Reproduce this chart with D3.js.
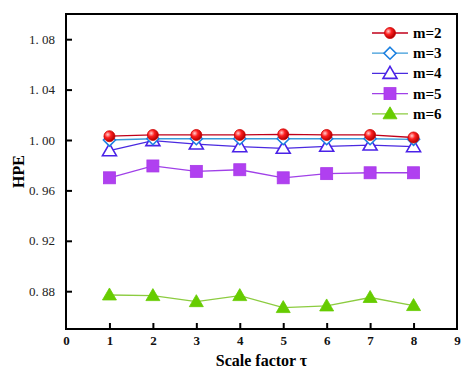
<!DOCTYPE html>
<html><head><meta charset="utf-8">
<script src="https://cdn.jsdelivr.net/npm/d3@7"></script>
<style>body{margin:0;background:#fff}svg{display:block}</style>
</head><body>
<svg id="c" width="474" height="377"></svg>
<script>
const scales = [1,2,3,4,5,6,7,8];
const m2 = [1.003,1.004,1.004,1.004,1.0045,1.004,1.004,1.002];
const m3 = [1.000,1.001,1.001,1.001,1.001,1.001,1.001,1.0005];
const m4 = [0.9915,0.9995,0.9968,0.9947,0.9934,0.995,0.996,0.9947];
const m5 = [0.970,0.9794,0.9751,0.9764,0.970,0.9733,0.974,0.974];
const m6 = [0.877,0.8765,0.8717,0.8765,0.867,0.8683,0.875,0.8686];
const yTicks = [0.88,0.92,0.96,1.00,1.04,1.08];
const xTicks = [0,1,2,3,4,5,6,7,8,9];
const seriesNames = ["m=2","m=3","m=4","m=5","m=6"];

const series = [
  {name:seriesNames[0], v:m2, line:"#c0001a", fill:"url(#redball)", stroke:"#d00000", shape:"circle"},
  {name:seriesNames[1], v:m3, line:"#3a9ad9", fill:"#fff", stroke:"#1a7fe0", shape:"diamond"},
  {name:seriesNames[2], v:m4, line:"#4a2ae0", fill:"#fff", stroke:"#4a22e8", shape:"triangle"},
  {name:seriesNames[3], v:m5, line:"#a040e8", fill:"#b040f0", stroke:"#a838e8", shape:"square"},
  {name:seriesNames[4], v:m6, line:"#8ccc40", fill:"#66cc00", stroke:"#66cc00", shape:"triangle"}
];

const svg = d3.select("#c");
const defs = svg.append("defs");
const rg = defs.append("radialGradient").attr("id","redball").attr("cx","35%").attr("cy","35%").attr("r","65%");
rg.append("stop").attr("offset","0%").attr("stop-color","#ffd0d0");
rg.append("stop").attr("offset","45%").attr("stop-color","#ff2020");
rg.append("stop").attr("offset","100%").attr("stop-color","#b00000");

const L=66, R=457, T=14, B=329;
const x = d3.scaleLinear().domain([0,9]).range([L,R]);
const y = d3.scaleLinear().domain([0.85,1.10]).range([B,T]);

const serif = "'Liberation Serif','Times New Roman',serif";

// frame
svg.append("rect").attr("x",L).attr("y",T).attr("width",R-L).attr("height",B-T)
  .attr("fill","none").attr("stroke","#000").attr("stroke-width",2);

// y axis
const yAxis = d3.axisLeft(y).tickValues(yTicks).tickSize(-6).tickPadding(10)
  .tickFormat(d => d3.format(".2f")(d).replace(".", ". "));
const gy = svg.append("g").attr("transform",`translate(${L},0)`).call(yAxis);
gy.select(".domain").remove();
gy.selectAll(".tick line").attr("stroke","#000").attr("stroke-width",2);
gy.selectAll("text").attr("font-family",serif).attr("font-size",13).attr("fill","#222").attr("x",-11);

// x axis
const xAxis = d3.axisBottom(x).tickValues(xTicks).tickSize(-6).tickPadding(10).tickFormat(d3.format("d"));
const gx = svg.append("g").attr("transform",`translate(0,${B})`).call(xAxis);
gx.select(".domain").remove();
gx.selectAll(".tick line").attr("stroke","#000").attr("stroke-width",2)
  .attr("display", d => (d===0||d===9)?"none":null);
gx.selectAll("text").attr("font-family",serif).attr("font-size",13).attr("font-weight","bold").attr("fill","#111").attr("y",7);

// axis titles
svg.append("text").attr("x",(L+R)/2).attr("y",366).attr("text-anchor","middle")
  .attr("font-family",serif).attr("font-size",16).attr("font-weight","bold").text("Scale factor τ");
svg.append("text").attr("transform",`translate(24,${(T+B)/2}) rotate(-90)`).attr("text-anchor","middle")
  .attr("font-family",serif).attr("font-size",16).attr("font-weight","bold").text("HPE");

function marker(g, shape, cx, cy, s){
  if(shape==="circle") return g.append("circle").attr("cx",cx).attr("cy",cy).attr("r",5.5);
  if(shape==="diamond") return g.append("path").attr("d",`M${cx},${cy-6}L${cx+6},${cy}L${cx},${cy+6}L${cx-6},${cy}Z`);
  if(shape==="square") return g.append("rect").attr("x",cx-6).attr("y",cy-6).attr("width",12).attr("height",12);
  if(shape==="triangle") return g.append("path").attr("d",`M${cx},${cy-7}L${cx+7},${cy+5}L${cx-7},${cy+5}Z`);
}

const line = d3.line().x((d,i)=>x(scales[i])).y(d=>y(d));
// draw in reverse order so m=2 on top
[...series].reverse().forEach(s=>{
  const g = svg.append("g");
  g.append("path").attr("d",line(s.v)).attr("fill","none").attr("stroke",s.line).attr("stroke-width",1.3);
  s.v.forEach((v,i)=>{
    marker(g, s.shape, x(scales[i]), y(v)).attr("fill",s.fill).attr("stroke",s.stroke)
      .attr("stroke-width", (s.fill==="#fff")?1.6:0.8);
  });
});

// legend
series.forEach((s,i)=>{
  const ly = 33 + i*20.2;
  const g = svg.append("g");
  g.append("line").attr("x1",372).attr("x2",408).attr("y1",ly).attr("y2",ly).attr("stroke",s.line).attr("stroke-width",1.3);
  marker(g, s.shape, 390, ly).attr("fill",s.fill).attr("stroke",s.stroke).attr("stroke-width",(s.fill==="#fff")?1.6:0.8);
  g.append("text").attr("x",413).attr("y",ly+5).attr("font-family",serif).attr("font-size",15)
    .attr("font-weight","bold").text(s.name);
});
</script>
</body></html>
